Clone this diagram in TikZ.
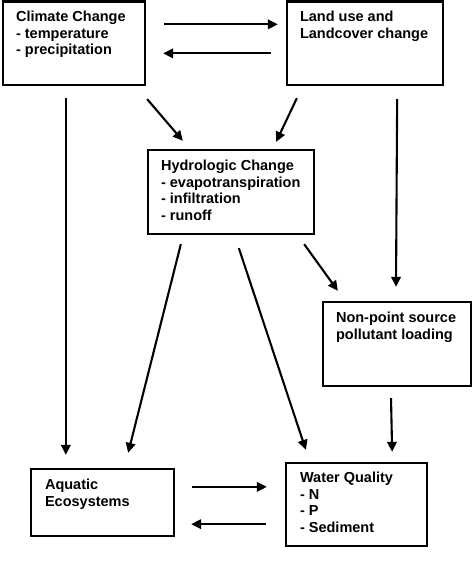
\documentclass[tikz,border=0pt]{standalone}
\usepackage{fontspec}
\setmainfont{Liberation Sans}
\usetikzlibrary{arrows.meta}

\begin{document}
\begin{tikzpicture}[x=1pt,y=1pt,
    box/.style={draw,line width=2.3pt,inner sep=0pt},
    txt/.style={anchor=north west,align=left,inner sep=0pt,
        font=\bfseries\fontsize{14.5}{16.7}\selectfont},
    arr/.style={line width=2.1pt,-{Triangle[length=10pt,width=9.5pt]}}]
    \useasboundingbox (0,0) rectangle (474,-561);
    \node[box,minimum width=142,minimum height=83.5] (climate) at (74,-43.25) {};
    \node[box,minimum width=156,minimum height=83.5] (land) at (365,-43.25) {};
    \node[box,minimum width=166,minimum height=84] (hydro) at (231,-192) {};
    \node[box,minimum width=148,minimum height=84] (nps) at (397,-344) {};
    \node[box,minimum width=143,minimum height=67] (aquatic) at (102.5,-502.5) {};
    \node[box,minimum width=141,minimum height=83] (wq) at (356.5,-504.5) {};
    \node[txt] (climatetxt) at ([xshift=14pt,yshift=-10.5pt]climate.north west)
        {Climate Change\\- temperature\\- precipitation};
    \node[txt] (landtxt) at ([xshift=14pt,yshift=-10.5pt]land.north west)
        {Land use and\\Landcover change};
    \node[txt] (hydrotxt) at ([xshift=14pt,yshift=-11pt]hydro.north west)
        {Hydrologic Change\\- evapotranspiration\\- infiltration\\- runoff};
    \node[txt] (npstxt) at ([xshift=14pt,yshift=-11pt]nps.north west)
        {Non-point source\\pollutant loading};
    \node[txt] (aquatictxt) at ([xshift=15pt,yshift=-11pt]aquatic.north west)
        {Aquatic\\Ecosystems};
    \node[txt] (wqtxt) at ([xshift=15pt,yshift=-10pt]wq.north west)
        {Water Quality\\- N\\- P\\- Sediment};
    \draw[arr] ([xshift=18pt,yshift=-24pt]climate.north east) -- ([xshift=-8pt,yshift=-24pt]land.north west);
    \draw[arr] ([xshift=-15pt,yshift=-53pt]land.north west) -- ([xshift=17pt,yshift=-53pt]climate.north east);
    \draw[arr] ([xshift=1pt,yshift=-13pt]climate.south east) -- ([xshift=36pt,yshift=8pt]hydro.north west);
    \draw[arr] ([xshift=11pt,yshift=-12pt]land.south west) -- ([xshift=-39pt,yshift=7pt]hydro.north east);
    \draw[arr] ([xshift=64pt,yshift=-12pt]climate.south west) -- ([xshift=36pt,yshift=13pt]aquatic.north west);
    \draw[arr] ([xshift=-47pt,yshift=-13pt]land.south east) -- ([xshift=-1pt,yshift=14pt]nps.north);
    \draw[arr] ([xshift=34pt,yshift=-9pt]hydro.south west) -- ([xshift=-47pt,yshift=15pt]aquatic.north east);
    \draw[arr] ([xshift=92pt,yshift=-13pt]hydro.south west) -- ([xshift=21pt,yshift=12pt]wq.north west);
    \draw[arr] ([xshift=-11pt,yshift=-9pt]hydro.south east) -- ([xshift=16pt,yshift=10pt]nps.north west);
    \draw[arr] ([xshift=-6pt,yshift=-11pt]nps.south) -- ([xshift=-36pt,yshift=10pt]wq.north east);
    \draw[arr] ([xshift=17pt,yshift=-19pt]aquatic.north east) -- ([xshift=-18pt,yshift=-25pt]wq.north west);
    \draw[arr] ([xshift=-19pt,yshift=23pt]wq.south west) -- ([xshift=16pt,yshift=13pt]aquatic.south east);
\end{tikzpicture}
\end{document}
